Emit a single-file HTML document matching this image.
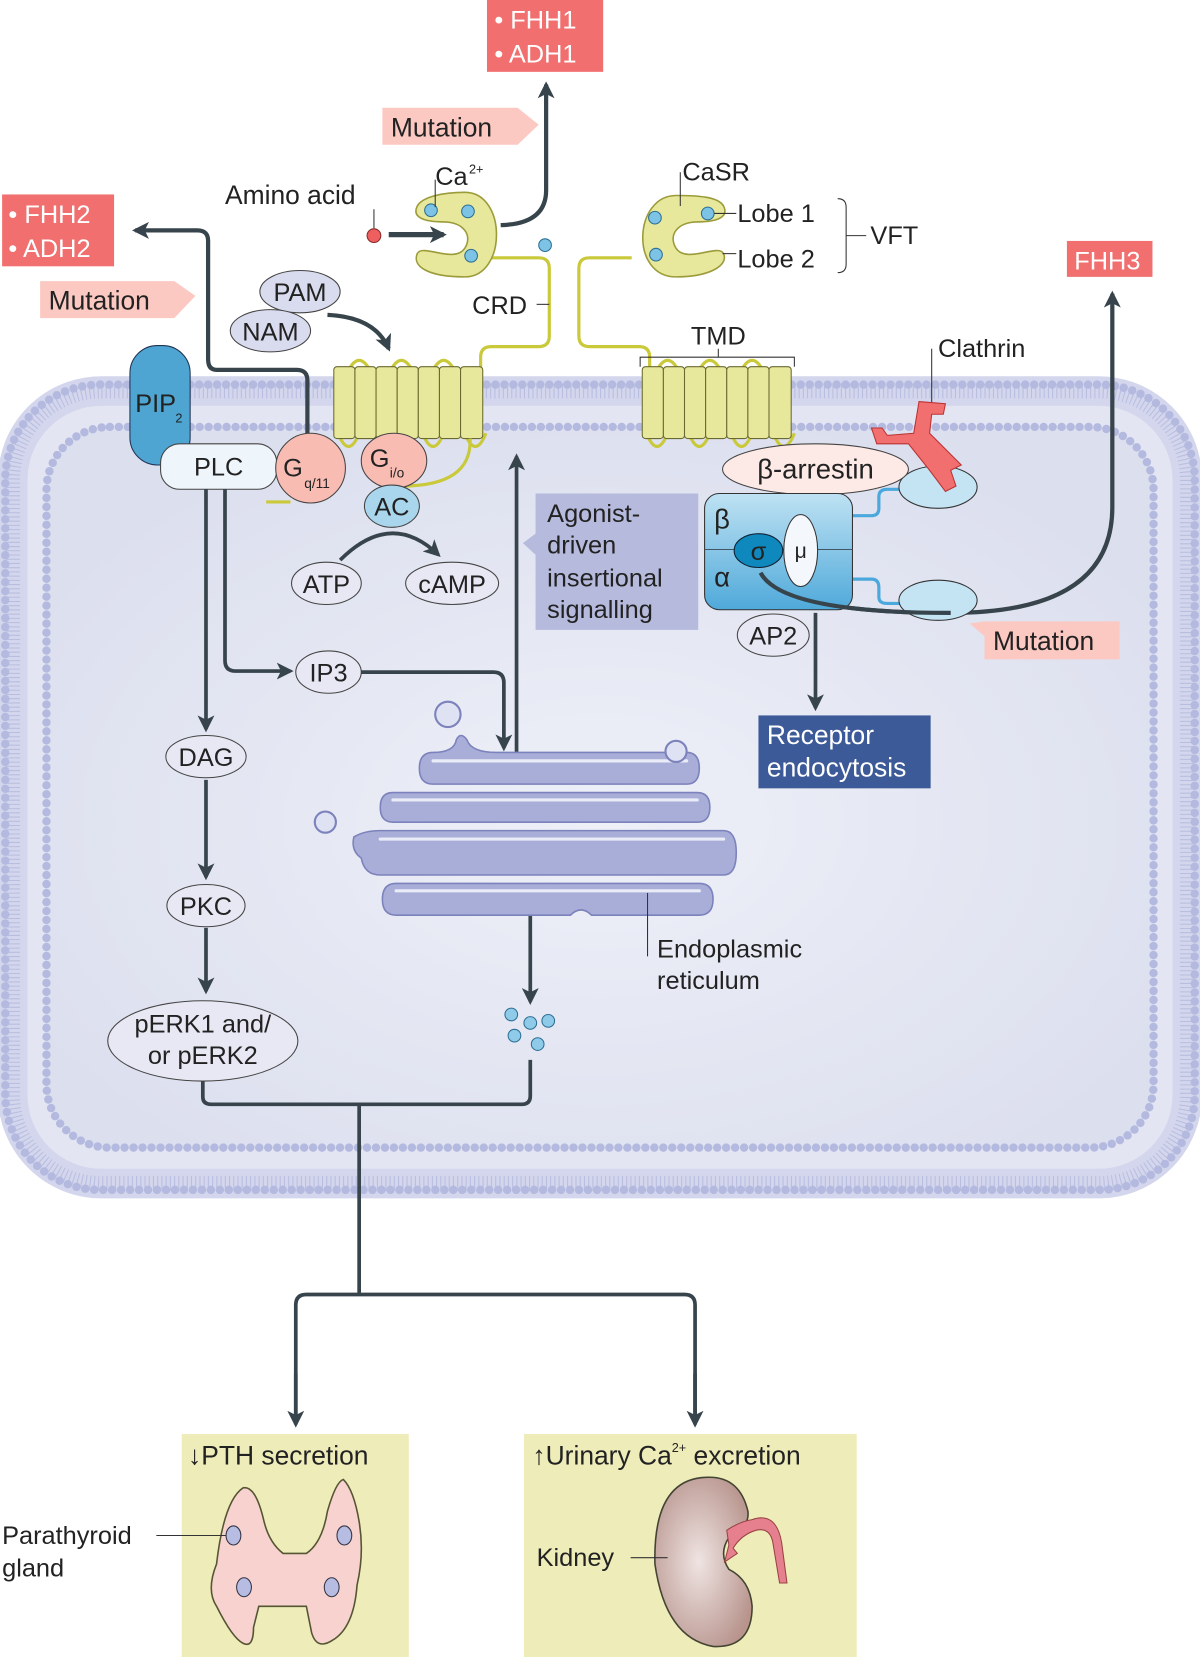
<!DOCTYPE html>
<html><head><meta charset="utf-8"><style>
html,body{margin:0;padding:0;background:#fff;}
svg{display:block;}
text{font-family:"Liberation Sans",sans-serif;fill:#222;}
</style></head><body>
<svg width="1200" height="1657" viewBox="0 0 1136 1568" preserveAspectRatio="none" xmlns="http://www.w3.org/2000/svg">
<defs>
<radialGradient id="cell" cx="0.5" cy="0.55" r="0.6"><stop offset="0" stop-color="#eef0f8"/><stop offset="1" stop-color="#dcdfee"/></radialGradient>
<radialGradient id="kid" cx="0.45" cy="0.5" r="0.6"><stop offset="0" stop-color="#efe4e2"/><stop offset="1" stop-color="#b8948d"/></radialGradient>
<linearGradient id="ap2" x1="0" y1="0" x2="0" y2="1"><stop offset="0" stop-color="#bfe2f3"/><stop offset="1" stop-color="#4fa9da"/></linearGradient>
<marker id="ar2" markerWidth="16" markerHeight="16" refX="13" refY="8" orient="auto" markerUnits="userSpaceOnUse"><path d="M0,0 L16,8 L0,16 L4,8z" fill="#37444c"/></marker>
</defs>

<!-- cell membrane -->
<rect x="2" y="360" width="1132" height="770" rx="92" fill="#e3e5f2"/>
<rect x="12" y="370" width="1112" height="750" rx="84" fill="none" stroke="#d3d6ec" stroke-width="28"/>
<rect x="12" y="370" width="1112" height="750" rx="84" fill="none" stroke="#b9bee0" stroke-width="14" stroke-dasharray="1 3"/>
<rect x="5" y="364" width="1126" height="762" rx="90" fill="none" stroke="#b4badf" stroke-width="8" stroke-linecap="round" stroke-dasharray="0 8.5"/>
<rect x="44" y="404" width="1048" height="682" rx="60" fill="url(#cell)" stroke="#b4badf" stroke-width="8" stroke-linecap="round" stroke-dasharray="0 8.5"/>
<rect x="48" y="408" width="1040" height="674" rx="56" fill="url(#cell)"/>

<!-- top labels -->
<rect x="461" y="0" width="110" height="68" fill="#f26f6f"/>
<text x="468" y="27" font-size="24" style="fill:#fff">• FHH1</text>
<text x="468" y="59" font-size="24" style="fill:#fff">• ADH1</text>
<path d="M474,213 Q517,212 517,180 L517,80" fill="none" stroke="#37444c" stroke-width="4" marker-end="url(#ar2)"/>
<path d="M362,102 H490 L510,118 L490,137 H362z" fill="#fcc9c2"/>
<text x="370" y="129" font-size="25">Mutation</text>

<rect x="2" y="184" width="106" height="68" fill="#f26f6f"/>
<text x="8" y="211" font-size="24" style="fill:#fff">• FHH2</text>
<text x="8" y="243" font-size="24" style="fill:#fff">• ADH2</text>
<path d="M291,420 V360 Q291,350 281,350 H205 Q197,350 197,340 V228 Q197,218 187,218 H128" fill="none" stroke="#37444c" stroke-width="4" marker-end="url(#ar2)"/>
<path d="M38,266 H165 L185,280 L165,301 H38z" fill="#fcc9c2"/>
<text x="46" y="293" font-size="25">Mutation</text>

<rect x="1010" y="228" width="81" height="34" fill="#f26f6f"/>
<text x="1017" y="255" font-size="24" style="fill:#fff">FHH3</text>
<path d="M720,542 Q740,580 900,580 Q1053,580 1053,480 V278" fill="none" stroke="#37444c" stroke-width="4" marker-end="url(#ar2)"/>
<path d="M932,588 H1060 V624 H932 V602 L918,590z" fill="#fcc9c2"/>
<text x="940" y="615" font-size="25">Mutation</text>

<!-- yellow tether -->
<path d="M462,244 H510 Q520,244 520,254 V318 Q520,328 510,328 H465 Q455,328 455,338 V350" fill="none" stroke="#c9c93a" stroke-width="3"/>
<path d="M598,244 H558 Q548,244 548,254 V318 Q548,328 558,328 H605 Q615,328 615,338 V350" fill="none" stroke="#c9c93a" stroke-width="3"/>

<!-- VFTs -->
<path d="M440,182 C480,182 480,262 440,262 C405,262 390,252 395,240 C400,230 430,250 440,235 C448,222 438,210 420,210 C400,210 390,205 395,195 C400,186 420,182 440,182z" fill="#e8e89c" stroke="#9b9b3a" stroke-width="1.5"/>
<circle cx="408" cy="199" r="6" fill="#7cc3e6" stroke="#2d6f94"/><circle cx="443" cy="200" r="6" fill="#7cc3e6" stroke="#2d6f94"/><circle cx="446" cy="242" r="6" fill="#7cc3e6" stroke="#2d6f94"/>
<circle cx="354" cy="223" r="6.5" fill="#ee5f5f" stroke="#8a2a2a"/>
<path d="M368,222 H420" stroke="#37444c" stroke-width="5" marker-end="url(#ar2)"/>
<circle cx="516" cy="232" r="6" fill="#7cc3e6" stroke="#2d6f94"/>
<line x1="412" y1="170" x2="412" y2="196" stroke="#333"/>
<text x="412" y="175" font-size="24">Ca</text><text x="444" y="164" font-size="12">2+</text>
<text x="213" y="193" font-size="25">Amino acid</text>
<line x1="354" y1="198" x2="354" y2="216" stroke="#333"/>

<path d="M640,185 C600,185 596,262 640,262 C670,262 690,252 685,240 C680,230 650,250 640,235 C632,222 642,210 660,210 C680,210 690,205 685,195 C680,186 660,185 640,185z" fill="#e8e89c" stroke="#9b9b3a" stroke-width="1.5"/>
<circle cx="620" cy="206" r="6" fill="#7cc3e6" stroke="#2d6f94"/><circle cx="670" cy="202" r="6" fill="#7cc3e6" stroke="#2d6f94"/><circle cx="621" cy="241" r="6" fill="#7cc3e6" stroke="#2d6f94"/>
<line x1="644" y1="163" x2="644" y2="195" stroke="#333"/>
<text x="646" y="171" font-size="24">CaSR</text>
<line x1="676" y1="202" x2="697" y2="202" stroke="#333"/><text x="698" y="210" font-size="24">Lobe 1</text>
<line x1="684" y1="240" x2="697" y2="240" stroke="#333"/><text x="698" y="253" font-size="24">Lobe 2</text>
<path d="M793,188 Q801,188 801,196 V250 Q801,258 793,258 M801,223 H820" fill="none" stroke="#333"/>
<text x="824" y="231" font-size="24">VFT</text>
<text x="447" y="297" font-size="24">CRD</text><line x1="508" y1="288" x2="520" y2="288" stroke="#333"/>

<!-- PAM NAM -->
<ellipse cx="284" cy="276" rx="38" ry="20" fill="#d9dbee" stroke="#444"/>
<text x="284" y="285" font-size="24" text-anchor="middle">PAM</text>
<ellipse cx="256" cy="313" rx="38" ry="20" fill="#d9dbee" stroke="#444"/>
<text x="256" y="322" font-size="24" text-anchor="middle">NAM</text>
<path d="M310,298 Q355,300 368,330" fill="none" stroke="#37444c" stroke-width="4" marker-end="url(#ar2)"/>

<!-- TMDs -->
<g fill="#e8e89c" stroke="#6a6a30" stroke-width="1">
<g id="tm">
<path d="M320,410 q10,25 20,0 M360,410 q10,25 20,0 M400,410 q10,25 20,0 M440,410 q10,25 20,0" fill="none" stroke="#c9c93a" stroke-width="3"/>
<path d="M330,350 q10,-18 20,0 M370,350 q10,-18 20,0 M410,350 q10,-18 20,0" fill="none" stroke="#c9c93a" stroke-width="3"/>
<rect x="316" y="347" width="20" height="68" rx="3"/><rect x="336" y="347" width="20" height="68" rx="3"/><rect x="356" y="347" width="20" height="68" rx="3"/><rect x="376" y="347" width="20" height="68" rx="3"/><rect x="396" y="347" width="20" height="68" rx="3"/><rect x="416" y="347" width="20" height="68" rx="3"/><rect x="436" y="347" width="21" height="68" rx="3"/>
</g>
<use href="#tm" x="292"/>
</g>
<path d="M606,347 V338 H752 V347 M680,338 V330" fill="none" stroke="#333"/>
<text x="680" y="326" font-size="24" text-anchor="middle">TMD</text>
<line x1="882" y1="330" x2="882" y2="385" stroke="#333"/>
<text x="888" y="338" font-size="24">Clathrin</text>

<!-- PIP2 PLC G -->
<rect x="123" y="327" width="57" height="113" rx="26" fill="#4ea5d2" stroke="#235"/>
<text x="128" y="390" font-size="24">PIP</text><text x="166" y="400" font-size="12">2</text>
<path d="M252,475 H275 M445,415 Q447,460 380,460" fill="none" stroke="#c9c93a" stroke-width="3"/>
<rect x="152" y="420" width="110" height="43" rx="18" fill="#eef5fb" stroke="#444"/>
<text x="207" y="450" font-size="24" text-anchor="middle">PLC</text>
<ellipse cx="294" cy="443" rx="33" ry="33" fill="#f8bcb2" stroke="#444"/>
<text x="268" y="451" font-size="24">G</text><text x="288" y="462" font-size="13">q/11</text>
<ellipse cx="373" cy="436" rx="31" ry="26" fill="#f8bcb2" stroke="#444"/>
<text x="350" y="442" font-size="24">G</text><text x="369" y="452" font-size="13">i/o</text>
<ellipse cx="371" cy="479" rx="26" ry="20" fill="#a9d6ec" stroke="#444"/>
<text x="371" y="488" font-size="24" text-anchor="middle">AC</text>
<ellipse cx="309" cy="552" rx="33" ry="20" fill="#e7e8f4" stroke="#444"/>
<text x="309" y="561" font-size="24" text-anchor="middle">ATP</text>
<ellipse cx="428" cy="552" rx="44" ry="20" fill="#e7e8f4" stroke="#444"/>
<text x="428" y="561" font-size="24" text-anchor="middle">cAMP</text>
<path d="M322,530 Q370,482 415,525" fill="none" stroke="#37444c" stroke-width="3.5" marker-end="url(#ar2)"/>

<!-- signaling lines -->
<g fill="none" stroke="#37444c" stroke-width="3.5">
<path d="M195,463 V690" marker-end="url(#ar2)"/>
<path d="M213,463 V625 Q213,635 223,635 H275" marker-end="url(#ar2)"/>
<path d="M342,636 H467 Q477,636 477,646 V708" marker-end="url(#ar2)"/>
<path d="M195,738 V830" marker-end="url(#ar2)"/>
<path d="M195,878 V938" marker-end="url(#ar2)"/>
<path d="M489,712 V432" marker-end="url(#ar2)"/>
<path d="M772,580 V670" marker-end="url(#ar2)"/>
<path d="M502,850 V948" marker-end="url(#ar2)"/>
<path d="M192,1023 V1038 Q192,1045 200,1045 H494 Q502,1045 502,1037 V1003"/>
<path d="M340,1045 V1225"/>
<path d="M280,1345 V1235 Q280,1225 290,1225 H648 Q658,1225 658,1235 V1345" />
<path d="M280,1300 V1348" marker-end="url(#ar2)"/>
<path d="M658,1300 V1348" marker-end="url(#ar2)"/>
</g>
<ellipse cx="311" cy="636" rx="31" ry="20" fill="#e7e8f4" stroke="#444"/>
<text x="311" y="645" font-size="24" text-anchor="middle">IP3</text>
<ellipse cx="195" cy="716" rx="38" ry="20" fill="#e7e8f4" stroke="#444"/>
<text x="195" y="725" font-size="24" text-anchor="middle">DAG</text>
<ellipse cx="195" cy="857" rx="37" ry="20" fill="#e7e8f4" stroke="#444"/>
<text x="195" y="866" font-size="24" text-anchor="middle">PKC</text>
<ellipse cx="192" cy="985" rx="90" ry="38" fill="#e7e8f4" stroke="#444"/>
<text x="192" y="977" font-size="24" text-anchor="middle">pERK1 and/</text>
<text x="192" y="1007" font-size="24" text-anchor="middle">or pERK2</text>

<!-- Agonist box -->
<path d="M507,467 H661 V596 H507 V525 L495,514 L507,505z" fill="#b6badd"/>
<text x="518" y="494" font-size="24">Agonist-</text>
<text x="518" y="524" font-size="24">driven</text>
<text x="518" y="555" font-size="24">insertional</text>
<text x="518" y="585" font-size="24">signalling</text>

<!-- AP2 complex -->
<path d="M807,488 H825 Q832,488 832,481 V470 Q832,463 840,463 H860 M807,548 H825 Q832,548 832,556 V565 Q832,571 840,571 H858" fill="none" stroke="#4aa8dc" stroke-width="3"/>
<ellipse cx="888" cy="461" rx="37" ry="20" fill="#c4e4f4" stroke="#333"/>
<ellipse cx="888" cy="568" rx="37" ry="19" fill="#c4e4f4" stroke="#333"/>
<ellipse cx="772" cy="444" rx="88" ry="24" fill="#fdeae6" stroke="#444"/>
<text x="772" y="453" font-size="26" text-anchor="middle">β-arrestin</text>
<path d="M870,380 L895,382 L893,392 L882,392 L880,410 L910,440 L900,445 L905,460 L895,465 L880,445 L860,420 L830,420 L825,405 L835,405 L840,412 L865,410 z" fill="#f26f6f" stroke="#b33"/>
<rect x="667" y="467" width="140" height="110" rx="14" fill="url(#ap2)" stroke="#333"/>
<line x1="667" y1="520" x2="807" y2="520" stroke="#456"/>
<text x="676" y="500" font-size="26">β</text>
<text x="676" y="555" font-size="26">α</text>
<ellipse cx="758" cy="521" rx="16" ry="34" fill="#f4f8fc" stroke="#333"/>
<text x="758" y="528" font-size="20" text-anchor="middle">μ</text>
<ellipse cx="718" cy="521" rx="23" ry="16" fill="#0f88bd" stroke="#123"/>
<text x="718" y="530" font-size="24" text-anchor="middle">σ</text>
<path d="M720,542 Q740,580 900,580" fill="none" stroke="#37444c" stroke-width="4"/>
<ellipse cx="732" cy="601" rx="34" ry="20" fill="#e7e8f4" stroke="#444"/>
<text x="732" y="610" font-size="24" text-anchor="middle">AP2</text>
<rect x="718" y="677" width="163" height="69" fill="#3d5a98"/>
<text x="726" y="704" font-size="25" style="fill:#fff">Receptor</text>
<text x="726" y="735" font-size="25" style="fill:#fff">endocytosis</text>

<!-- ER -->
<g fill="#a9aed9" stroke="#7c82bb" stroke-width="1.5">
<path d="M410,712 Q430,712 432,700 Q436,692 442,700 Q446,712 470,712 H650 Q662,712 662,727 Q662,742 650,742 H410 Q397,742 397,727 Q397,712 410,712z"/>
<path d="M372,750 H660 Q672,750 672,764 Q672,778 660,778 H372 Q360,778 360,764 Q360,750 372,750z"/>
<path d="M360,786 H685 Q697,786 697,807 Q697,828 685,828 H360 Q345,828 342,812 Q332,805 335,792 Q345,786 360,786z"/>
<path d="M375,836 H662 Q675,836 675,851 Q675,866 662,866 H560 Q550,856 540,866 H375 Q362,866 362,851 Q362,836 375,836z"/>
</g>
<g fill="none" stroke="#e9ebf6" stroke-width="3" stroke-linecap="round">
<path d="M410,720 H650 M372,757 H660 M360,794 H685 M375,843 H662"/>
</g>
<circle cx="424" cy="676" r="12" fill="#dfe2f3" stroke="#7c82bb" stroke-width="2"/>
<circle cx="640" cy="711" r="10" fill="#dfe2f3" stroke="#7c82bb" stroke-width="2"/>
<circle cx="308" cy="778" r="10" fill="#dfe2f3" stroke="#7c82bb" stroke-width="2"/>
<line x1="613" y1="845" x2="613" y2="905" stroke="#333"/>
<text x="622" y="906" font-size="24">Endoplasmic</text>
<text x="622" y="936" font-size="24">reticulum</text>
<g fill="#8fcbe9" stroke="#2d6f94">
<circle cx="484" cy="960" r="6"/><circle cx="502" cy="968" r="6"/><circle cx="519" cy="966" r="6"/><circle cx="487" cy="980" r="6"/><circle cx="509" cy="988" r="6"/>
</g>

<!-- bottom boxes -->
<rect x="172" y="1357" width="215" height="211" fill="#eeecb9"/>
<text x="178" y="1386" font-size="25">↓PTH secretion</text>
<path d="M230,1408 Q212,1420 205,1480 Q195,1505 205,1520 Q220,1550 230,1555 Q240,1560 240,1540 L245,1520 H290 L295,1545 Q300,1562 315,1552 Q335,1540 338,1500 Q345,1470 340,1440 Q335,1410 325,1400 Q318,1402 310,1430 Q305,1460 290,1470 H268 Q255,1460 250,1440 Q242,1405 230,1408z" fill="#f8d2cf" stroke="#553" stroke-width="1.5"/>
<g fill="#b7bde2" stroke="#334"><ellipse cx="221" cy="1453" rx="7" ry="9"/><ellipse cx="326" cy="1453" rx="7" ry="9"/><ellipse cx="231" cy="1502" rx="7" ry="9"/><ellipse cx="314" cy="1502" rx="7" ry="9"/></g>
<line x1="148" y1="1453" x2="214" y2="1453" stroke="#333"/>
<text x="2" y="1461" font-size="24">Parathyroid</text>
<text x="2" y="1492" font-size="24">gland</text>

<rect x="496" y="1357" width="315" height="211" fill="#eeecb9"/>
<text x="504" y="1386" font-size="25">↑Urinary Ca<tspan font-size="12" dy="-12">2+</tspan><tspan dy="12"> excretion</tspan></text>
<path d="M668,1398 Q700,1396 708,1430 Q710,1445 690,1455 Q680,1470 690,1485 Q710,1495 712,1520 Q712,1560 675,1558 Q630,1550 620,1480 Q618,1400 668,1398z" fill="url(#kid)" stroke="#443" stroke-width="1.5"/>
<path d="M688,1448 Q700,1440 712,1438 Q735,1430 740,1460 L745,1498 H738 L732,1462 Q730,1445 716,1448 Q702,1452 694,1465 L698,1470 L686,1478 L690,1462 z" fill="#e6808f" stroke="#944"/>
<line x1="597" y1="1474" x2="632" y2="1474" stroke="#333"/>
<text x="508" y="1482" font-size="24">Kidney</text>
</svg>
</body></html>
